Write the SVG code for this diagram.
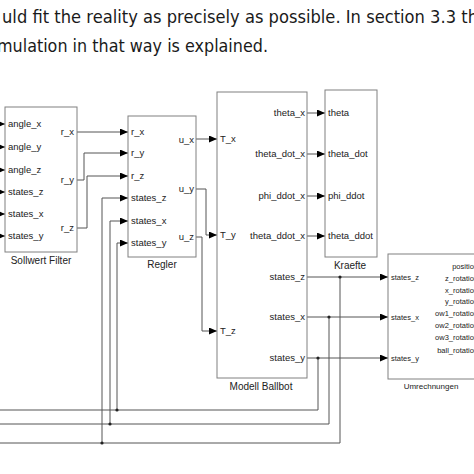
<svg xmlns="http://www.w3.org/2000/svg" width="474" height="474" viewBox="0 0 474 474">
<style>
.bg{fill:#ffffff}
.blk{fill:#ffffff;stroke:#808080;stroke-width:1}
.ln{fill:none;stroke:#555555;stroke-width:1}
.pt{font-family:"Liberation Sans",Arial,sans-serif;font-size:9.5px;fill:#222222}
.sm{font-family:"Liberation Sans",Arial,sans-serif;font-size:7.5px;fill:#222222}
.tt{font-family:"Liberation Sans",Arial,sans-serif;font-size:10px;fill:#222222;text-anchor:middle}
.tts{font-family:"Liberation Sans",Arial,sans-serif;font-size:8px;fill:#222222;text-anchor:middle}
.r{text-anchor:end}
.body{font-family:"DejaVu Sans","Liberation Sans",sans-serif;font-size:17px;fill:#1a1a1a}
.dot{fill:#222222}
</style>
<defs>
<marker id="arr" markerUnits="userSpaceOnUse" markerWidth="9" markerHeight="8" refX="8" refY="3.5" orient="auto">
<path d="M0,0 L8,3.5 L0,7 z" fill="#000000"/>
</marker>
</defs>
<rect class="bg" x="0" y="0" width="474" height="474"/>
<g id="caption">
<text class="body" x="2" y="23" textLength="476" lengthAdjust="spacingAndGlyphs">uld fit the reality as precisely as possible. In section 3.3 th</text>
<text class="body" x="-3" y="52" textLength="271" lengthAdjust="spacingAndGlyphs">mulation in that way is explained.</text>
</g>
<g id="connectors">
<!-- inputs to Sollwert Filter -->
<line class="ln" x1="-10" y1="124" x2="5" y2="124" marker-end="url(#arr)"/>
<line class="ln" x1="-10" y1="147" x2="5" y2="147" marker-end="url(#arr)"/>
<line class="ln" x1="-10" y1="170" x2="5" y2="170" marker-end="url(#arr)"/>
<line class="ln" x1="-10" y1="192" x2="5" y2="192" marker-end="url(#arr)"/>
<line class="ln" x1="-10" y1="214" x2="5" y2="214" marker-end="url(#arr)"/>
<line class="ln" x1="-10" y1="236" x2="5" y2="236" marker-end="url(#arr)"/>
<!-- Sollwert to Regler -->
<polyline class="ln" points="77,132 128,132" marker-end="url(#arr)"/>
<polyline class="ln" points="77,180 84,180 84,153 128,153" marker-end="url(#arr)"/>
<polyline class="ln" points="77,228 87,228 87,176 128,176" marker-end="url(#arr)"/>
<!-- feedback states to Regler -->
<polyline class="ln" points="102,443 102,198 128,198" marker-end="url(#arr)"/>
<polyline class="ln" points="110,424 110,221 128,221" marker-end="url(#arr)"/>
<polyline class="ln" points="117,410 117,243 128,243" marker-end="url(#arr)"/>
<!-- Regler to Modell -->
<polyline class="ln" points="196,139 217,139" marker-end="url(#arr)"/>
<polyline class="ln" points="196,189 206,189 206,235 217,235" marker-end="url(#arr)"/>
<polyline class="ln" points="196,237 202,237 202,331 217,331" marker-end="url(#arr)"/>
<!-- Modell to Kraefte -->
<line class="ln" x1="307" y1="113" x2="325" y2="113" marker-end="url(#arr)"/>
<line class="ln" x1="307" y1="154" x2="325" y2="154" marker-end="url(#arr)"/>
<line class="ln" x1="307" y1="196" x2="325" y2="196" marker-end="url(#arr)"/>
<line class="ln" x1="307" y1="236" x2="325" y2="236" marker-end="url(#arr)"/>
<!-- Modell to Umrechnungen -->
<line class="ln" x1="307" y1="277" x2="388" y2="277" marker-end="url(#arr)"/>
<line class="ln" x1="307" y1="317" x2="388" y2="317" marker-end="url(#arr)"/>
<line class="ln" x1="307" y1="358" x2="388" y2="358" marker-end="url(#arr)"/>
<!-- feedback loops -->
<polyline class="ln" points="340,277 340,443 -10,443"/>
<polyline class="ln" points="329,317 329,424 -10,424"/>
<polyline class="ln" points="318,358 318,410 -10,410"/>
<circle class="dot" cx="340" cy="277" r="1.6"/>
<circle class="dot" cx="329" cy="317" r="1.6"/>
<circle class="dot" cx="318" cy="358" r="1.6"/>
<circle class="dot" cx="102" cy="443" r="1.6"/>
<circle class="dot" cx="110" cy="424" r="1.6"/>
<circle class="dot" cx="117" cy="410" r="1.6"/>
</g>
<g id="sollwert">
<rect class="blk" x="5" y="107" width="72" height="145"/>
<text class="pt" x="8" y="127.3">angle_x</text>
<text class="pt" x="8" y="150.3">angle_y</text>
<text class="pt" x="8" y="173.3">angle_z</text>
<text class="pt" x="8" y="195.3">states_z</text>
<text class="pt" x="8" y="217.3">states_x</text>
<text class="pt" x="8" y="239.3">states_y</text>
<text class="pt r" x="74" y="135.3">r_x</text>
<text class="pt r" x="74" y="183.3">r_y</text>
<text class="pt r" x="74" y="231.3">r_z</text>
<text class="tt" x="41" y="264">Sollwert Filter</text>
</g>
<g id="regler">
<rect class="blk" x="128" y="116" width="68" height="141"/>
<text class="pt" x="131" y="135.3">r_x</text>
<text class="pt" x="131" y="156.3">r_y</text>
<text class="pt" x="131" y="179.3">r_z</text>
<text class="pt" x="131" y="201.3">states_z</text>
<text class="pt" x="131" y="224.3">states_x</text>
<text class="pt" x="131" y="246.3">states_y</text>
<text class="pt r" x="194" y="143.3">u_x</text>
<text class="pt r" x="194" y="192.3">u_y</text>
<text class="pt r" x="194" y="240.3">u_z</text>
<text class="tt" x="162" y="268">Regler</text>
</g>
<g id="modell">
<rect class="blk" x="217" y="92" width="90" height="286"/>
<text class="pt" x="220" y="142.3">T_x</text>
<text class="pt" x="220" y="238.3">T_y</text>
<text class="pt" x="220" y="334.3">T_z</text>
<text class="pt r" x="305" y="116.3">theta_x</text>
<text class="pt r" x="305" y="157.3">theta_dot_x</text>
<text class="pt r" x="305" y="199.3">phi_ddot_x</text>
<text class="pt r" x="305" y="239.3">theta_ddot_x</text>
<text class="pt r" x="305" y="280.3">states_z</text>
<text class="pt r" x="305" y="320.3">states_x</text>
<text class="pt r" x="305" y="361.3">states_y</text>
<text class="tt" x="261" y="390">Modell Ballbot</text>
</g>
<g id="kraefte">
<rect class="blk" x="325" y="90" width="52" height="167"/>
<text class="pt" x="328" y="116.3">theta</text>
<text class="pt" x="328" y="157.3">theta_dot</text>
<text class="pt" x="328" y="199.3">phi_ddot</text>
<text class="pt" x="328" y="239.3">theta_ddot</text>
<text class="tt" x="350" y="269">Kraefte</text>
</g>
<g id="umrechnungen">
<rect class="blk" x="388" y="254" width="96" height="125"/>
<text class="sm" x="391" y="280">states_z</text>
<text class="sm" x="391" y="320">states_x</text>
<text class="sm" x="391" y="361">states_y</text>
<text class="sm r" x="478" y="268.5">position</text>
<text class="sm r" x="478" y="280.5">z_rotation</text>
<text class="sm r" x="478" y="292.5">x_rotation</text>
<text class="sm r" x="478" y="303.5">y_rotation</text>
<text class="sm r" x="478" y="315.5">ow1_rotation</text>
<text class="sm r" x="478" y="327.5">ow2_rotation</text>
<text class="sm r" x="478" y="339.5">ow3_rotation</text>
<text class="sm r" x="478" y="352.5">ball_rotation</text>
<text class="tts" x="431" y="389">Umrechnungen</text>
</g>
</svg>
